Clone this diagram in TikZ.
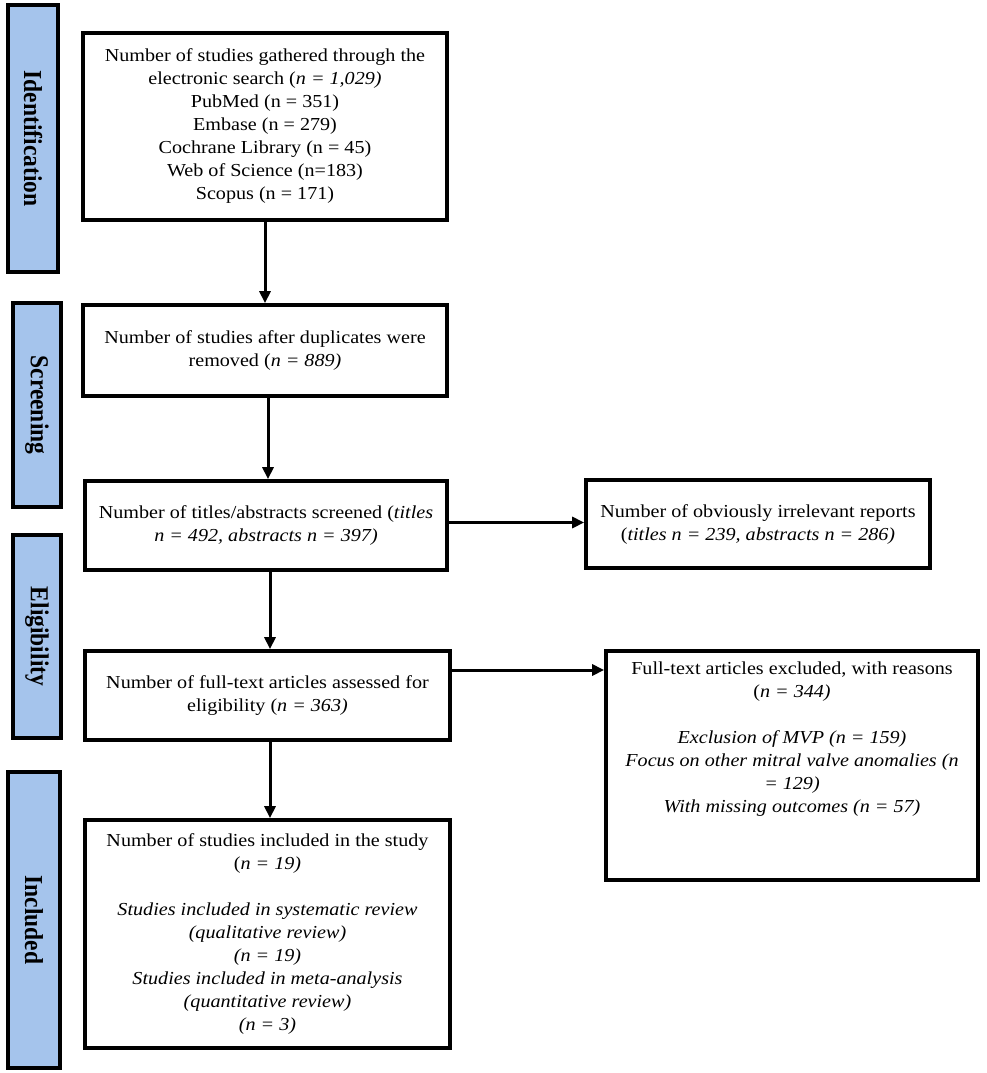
\documentclass[tikz,border=0pt]{standalone}
\usepackage{fontspec}
\setmainfont{Liberation Serif}[FakeStretch=1.1]
\newfontfamily\sidefont{Liberation Serif}
\usetikzlibrary{arrows.meta,calc}
\definecolor{sideblue}{RGB}{165,196,236}
\begin{document}
\begin{tikzpicture}[x=1pt,y=-1pt,
  box/.style={draw,line width=3.7pt,align=center,inner sep=0pt,font=\fontsize{18.3}{23}\selectfont},
  side/.style={draw,line width=3.7pt,fill=sideblue,inner sep=0pt,rotate=-90,font=\sidefont\fontsize{23.5}{26}\selectfont\bfseries},
  arr/.style={line width=3pt,-{Triangle[length=12pt,width=11pt]}}]
\useasboundingbox (0,0) rectangle (986,1073);
% side labels
\node[side,minimum width=267pt,minimum height=50pt] (sid) at (33,138.5) {\scalebox{1}[1.1]{Identification}};
\node[side,minimum width=204pt,minimum height=48pt] (ssc) at (37,405) {\scalebox{1}[1.1]{Screening}};
\node[side,minimum width=203pt,minimum height=48pt] (sel) at (37,636.5) {\scalebox{1}[1.1]{Eligibility}};
\node[side,minimum width=296pt,minimum height=52pt] (sin) at (34,920) {\scalebox{1}[1.1]{Included}};
% main boxes
\node[box,minimum width=364pt,minimum height=187pt] (b1) at (265,126.5)
 {Number of studies gathered through the\\electronic search (\textit{n = 1,029)}\\PubMed (n = 351)\\Embase (n = 279)\\Cochrane Library (n = 45)\\Web of Science (n=183)\\Scopus (n = 171)};
\node[box,minimum width=364pt,minimum height=91pt] (b2) at (265,350.5)
 {Number of studies after duplicates were\\removed (\textit{n = 889)}};
\node[box,minimum width=362pt,minimum height=89pt] (b3) at (266,525.5)
 {Number of titles/abstracts screened (\textit{titles}\\\textit{n = 492, abstracts n = 397)}};
\node[box,minimum width=365pt,minimum height=89pt] (b4) at (267.5,695.5)
 {Number of full-text articles assessed for\\eligibility (\textit{n = 363)}};
\node[box,minimum width=365pt,minimum height=228pt] (b5) at (267.5,934)
 {Number of studies included in the study\\(\textit{n = 19)}\\[23pt]\textit{Studies included in systematic review}\\\textit{(qualitative review)}\\\textit{(n = 19)}\\\textit{Studies included in meta-analysis}\\\textit{(quantitative review)}\\\textit{(n = 3)}};
\node[box,minimum width=344pt,minimum height=88pt] (r1) at (758,524)
 {Number of obviously irrelevant reports\\(\textit{titles n = 239, abstracts n = 286)}};
\node[box,minimum width=372pt,minimum height=229pt] (r2) at (792,765.5) {};
\node[align=center,inner sep=0pt,anchor=north,font=\fontsize{18.3}{23}\selectfont] (r2t) at ($(r2.north)+(0,12)$)
 {Full-text articles excluded, with reasons\\(\textit{n = 344)}\\[23pt]\textit{Exclusion of MVP (n = 159)}\\\textit{Focus on other mitral valve anomalies (n}\\\textit{= 129)}\\\textit{With missing outcomes (n = 57)}};
% connectors
\draw[arr] (b1.south) -- (b1.south |- b2.north);
\draw[arr] ($(b2.south)+(3,0)$) -- ($(b2.south |- b3.north)+(3,0)$);
\draw[arr] ($(b3.south)+(4,0)$) -- ($(b3.south |- b4.north)+(4,0)$);
\draw[arr] ($(b4.south)+(2.5,0)$) -- ($(b4.south |- b5.north)+(2.5,0)$);
\draw[arr] ($(b3.east)+(0,-3)$) -- ($(b3.east -| r1.west)+(0,-3)$);
\coordinate (a4) at ($(b4.east)+(0,-25.5)$);
\draw[arr] (a4) -- (a4 -| r2.west);
\end{tikzpicture}
\end{document}
